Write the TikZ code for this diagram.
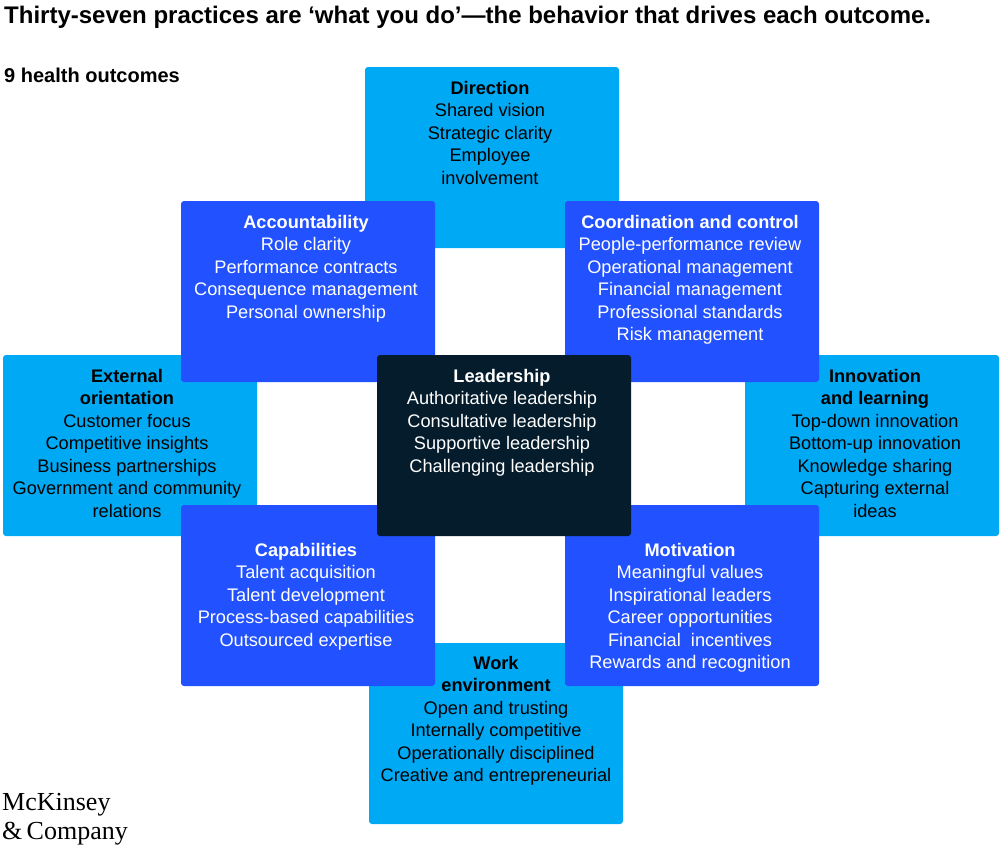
\documentclass[tikz,border=0pt]{standalone}
\usepackage{fontspec}
\setmainfont{Liberation Sans}
\newfontfamily\logofont{Liberation Serif}
\definecolor{lb}{HTML}{00A9F4}
\definecolor{bb}{HTML}{2251FF}
\definecolor{nv}{HTML}{051C2C}
\begin{document}
\begin{tikzpicture}[x=1pt,y=-1pt,
  box/.style={rounded corners=3pt},
  txt/.style={anchor=north,align=center,font=\fontsize{18.2}{22.5}\selectfont,inner sep=0pt},
  wt/.style={txt,text=white},
  kt/.style={txt,text=black}]
\useasboundingbox (0,0) rectangle (1000,852);
\node[anchor=west,font=\bfseries\fontsize{24}{28}\selectfont,inner sep=0pt] (title) at (4,17) {Thirty-seven practices are ‘what you do’—the behavior that drives each outcome.};
\node[anchor=west,font=\bfseries\fontsize{20}{24}\selectfont,inner sep=0pt] (sub) at (4,75) {9 health outcomes};
% light blue
\fill[lb,box] (365,67) rectangle (619,248);
\fill[lb,box] (3,355) rectangle (257,536);
\fill[lb,box] (745,355) rectangle (999,536);
\fill[lb,box] (369,643) rectangle (623,824);
% blue
\fill[bb,box] (181,201) rectangle (435,382);
\fill[bb,box] (565,201) rectangle (819,382);
\fill[bb,box] (181,505) rectangle (435,686);
\fill[bb,box] (565,505) rectangle (819,686);
% navy
\fill[nv,box] (377,355) rectangle (631,536);
% texts
\node[kt] (dir) at (490,81) {\textbf{Direction}\\Shared vision\\Strategic clarity\\Employee\\involvement};
\node[wt] (acc) at (306,215) {\textbf{Accountability}\\Role clarity\\Performance contracts\\Consequence management\\Personal ownership};
\node[wt] (coo) at (690,215) {\textbf{Coordination and control}\\People-performance review\\Operational management\\Financial management\\Professional standards\\Risk management};
\node[kt] (ext) at (127,369) {\textbf{External}\\\textbf{orientation}\\Customer focus\\Competitive insights\\Business partnerships\\Government and community\\relations};
\node[kt] (inn) at (875,369) {\textbf{Innovation}\\\textbf{and learning}\\Top-down innovation\\Bottom-up innovation\\Knowledge sharing\\Capturing external\\ideas};
\node[wt] (lea) at (502,369) {\textbf{Leadership}\\Authoritative leadership\\Consultative leadership\\Supportive leadership\\Challenging leadership};
\node[wt] (cap) at (306,543) {\textbf{Capabilities}\\Talent acquisition\\Talent development\\Process-based capabilities\\Outsourced expertise};
\node[wt] (mot) at (690,543) {\textbf{Motivation}\\Meaningful values\\Inspirational leaders\\Career opportunities\\Financial\ \ incentives\\Rewards and recognition};
\node[kt] (wor) at (496,656) {\textbf{Work}\\\textbf{environment}\\Open and trusting\\Internally competitive\\Operationally disciplined\\Creative and entrepreneurial};
\node[anchor=north west,align=left,font=\logofont\fontsize{26}{29}\selectfont,inner sep=0pt] (logo) at (2,793) {McKinsey\\\&\,Company};
\end{tikzpicture}
\end{document}
